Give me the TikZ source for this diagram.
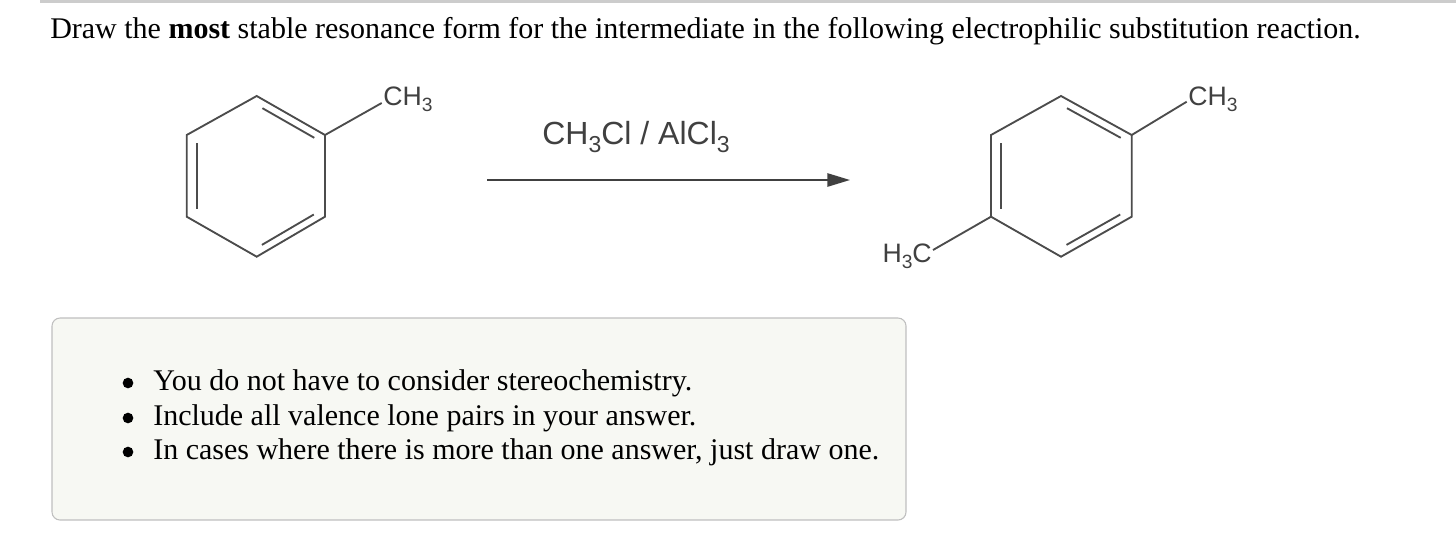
\documentclass[tikz,border=0pt]{standalone}
\usepackage{fontspec}
\setmainfont{Liberation Serif}
\newfontfamily\chemfont{Liberation Sans}
\usetikzlibrary{arrows.meta,calc}
\newcommand\chsub[1]{\raisebox{-0.45ex}{\fontsize{0.72em}{1em}\selectfont #1}}
\begin{document}
\begin{tikzpicture}[x=0.75pt,y=-0.75pt,
  bond/.style={draw=black!70,line width=1.4pt},
  chem/.style={font=\chemfont\fontsize{20}{24}\selectfont,text=black!75,inner sep=0pt},
  txt/.style={font=\fontsize{22.5}{27}\selectfont,inner sep=0pt,anchor=west}]
\useasboundingbox (0,0) rectangle (1456,536);
\fill[black!20] (40,0) rectangle (1456,3);
\node[txt] (title) at (50,31) {Draw the \textbf{most} stable resonance form for the intermediate in the following electrophilic substitution reaction.};
% left ring
\foreach \n/\x/\y in {a1/256.7/96,a2/325/135,a3/325/216.7,a4/256.7/256.7,a5/186.7/216.7,a6/186.7/135}
  \coordinate (\n) at (\x,\y);
\coordinate (am) at (381.7,103);
\draw[bond] (a1)--(a2)--(a3)--(a4)--(a5)--(a6)--cycle;
\draw[bond] (a2)--(am);
\draw[bond] ($(a1)!0.12!(a2)+(-2.5,7.5)$) -- ($(a1)!0.88!(a2)+(-2.5,7.5)$);
\draw[bond] ($(a3)!0.12!(a4)+(-3,-7)$) -- ($(a3)!0.88!(a4)+(-3,-7)$);
\draw[bond] ($(a5)!0.1!(a6)+(10,0)$) -- ($(a5)!0.9!(a6)+(10,0)$);
\node[chem,anchor=west] (lm) at (383,99) {CH\chsub{3}};
% arrow
\coordinate (ar1) at (487,180); \coordinate (ar2) at (850,180);
\draw[draw=black!75,line width=1.3pt,-{Triangle[length=17pt,width=10pt]}] (ar1)--(ar2);
\node[chem,font=\chemfont\fontsize{24}{28}\selectfont] (reag) at (636,137) {CH\chsub{3}Cl / AlCl\chsub{3}};
% right ring
\foreach \n/\x/\y in {b1/1061/96,b2/1131.7/135,b3/1131.7/216.7,b4/1061/256.7,b5/991/216.7,b6/991/135}
  \coordinate (\n) at (\x,\y);
\coordinate (bm) at (1186.7,101.7);
\coordinate (bn) at (933,250);
\draw[bond] (b1)--(b2)--(b3)--(b4)--(b5)--(b6)--cycle;
\draw[bond] (b2)--(bm);
\draw[bond] (b5)--(bn);
\draw[bond] ($(b1)!0.12!(b2)+(-2.5,7.5)$) -- ($(b1)!0.88!(b2)+(-2.5,7.5)$);
\draw[bond] ($(b3)!0.12!(b4)+(-3,-7)$) -- ($(b3)!0.88!(b4)+(-3,-7)$);
\draw[bond] ($(b5)!0.1!(b6)+(10,0)$) -- ($(b5)!0.9!(b6)+(10,0)$);
\node[chem,anchor=west] (rm) at (1188,99) {CH\chsub{3}};
\node[chem,anchor=east] (rn) at (932,256) {H\chsub{3}C};
% box
\draw[draw=black!25,fill={rgb,255:red,247;green,248;blue,243},rounded corners=6pt,line width=0.8pt] (52,318) rectangle (906,520);
\foreach \y/\t [count=\i] in {383/You do not have to consider stereochemistry.,418/Include all valence lone pairs in your answer.,452/{In cases where there is more than one answer, just draw one.}}{
  \fill (128,\y) circle (4pt);
  \node[txt] (bul\i) at (153,\y) {\t};
}
\end{tikzpicture}
\end{document}
